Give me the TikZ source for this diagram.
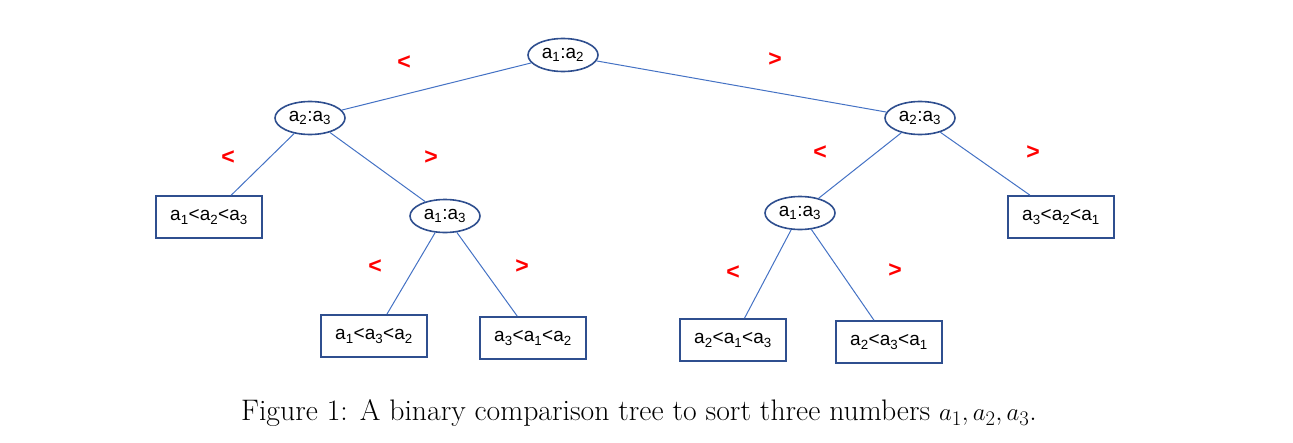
\documentclass[tikz,border=0pt]{standalone}
\usepackage{fontspec}
\newfontfamily\sansf{Liberation Sans}
\usetikzlibrary{shapes.geometric}
\definecolor{nblue}{HTML}{2F4F8F}
\definecolor{eblue}{HTML}{4472C4}
\newcommand{\sub}[1]{\textsubscript{#1}}
\begin{document}
\begin{tikzpicture}[x=1pt,y=-1pt,
  cmp/.style={ellipse,draw=nblue,line width=1.6pt,minimum width=70pt,minimum height=33pt,inner sep=0pt,font=\sansf\fontsize{19}{19}\selectfont},
  leaf/.style={rectangle,draw=nblue,line width=1.8pt,minimum width=106pt,minimum height=42pt,inner sep=0pt,font=\sansf\fontsize{19}{19}\selectfont},
  edge/.style={draw=eblue,line width=1pt},
  rel/.style={text=red,font=\sansf\bfseries\fontsize{23}{23}\selectfont}]
\useasboundingbox (0,0) rectangle (1293,442);
\node[cmp] (r) at (563,55) {a\sub{1}:a\sub{2}};
\node[cmp] (l) at (310,118) {a\sub{2}:a\sub{3}};
\node[cmp] (rr) at (920,118) {a\sub{2}:a\sub{3}};
\node[cmp] (lm) at (445,216) {a\sub{1}:a\sub{3}};
\node[cmp] (rm) at (800,213) {a\sub{1}:a\sub{3}};
\node[leaf] (b1) at (209,217) {a\sub{1}<a\sub{2}<a\sub{3}};
\node[leaf] (b2) at (1061,217) {a\sub{3}<a\sub{2}<a\sub{1}};
\node[leaf] (b3) at (374,336) {a\sub{1}<a\sub{3}<a\sub{2}};
\node[leaf] (b4) at (533,338) {a\sub{3}<a\sub{1}<a\sub{2}};
\node[leaf] (b5) at (733,340) {a\sub{2}<a\sub{1}<a\sub{3}};
\node[leaf] (b6) at (889,342) {a\sub{2}<a\sub{3}<a\sub{1}};
\draw[edge] (r) -- (l);
\draw[edge] (r) -- (rr);
\draw[edge] (l) -- (b1);
\draw[edge] (l) -- (lm);
\draw[edge] (lm) -- (b3);
\draw[edge] (lm) -- (b4);
\draw[edge] (rr) -- (rm);
\draw[edge] (rr) -- (b2);
\draw[edge] (rm) -- (b5);
\draw[edge] (rm) -- (b6);
\node[rel] (s1) at (404,63) {<};
\node[rel] (s2) at (775,60) {>};
\node[rel] (s3) at (228,158) {<};
\node[rel] (s4) at (431,158) {>};
\node[rel] (s5) at (820,153) {<};
\node[rel] (s6) at (1033,153) {>};
\node[rel] (s7) at (375,267) {<};
\node[rel] (s8) at (522,267) {>};
\node[rel] (s9) at (733,273) {<};
\node[rel] (s10) at (895,271) {>};
\node[font=\fontsize{29.7}{30}\selectfont] (cap) at (639,413) {Figure 1: A binary comparison tree to sort three numbers $a_1, a_2, a_3$.};
\end{tikzpicture}
\end{document}
